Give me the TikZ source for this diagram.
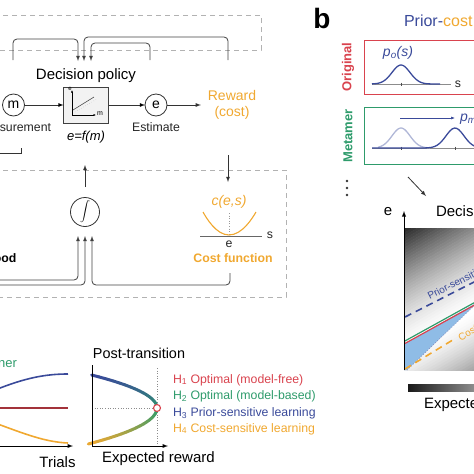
\documentclass[tikz,border=0pt]{standalone}
\usepackage{fontspec}
\setmainfont{Liberation Sans}
\usetikzlibrary{positioning,arrows.meta}
\definecolor{hred}{HTML}{D9434E}
\definecolor{hgreen}{HTML}{2E9B6B}
\definecolor{hblue}{HTML}{3A4A9A}
\definecolor{horange}{HTML}{F0A830}
\definecolor{hlight}{HTML}{8FBCE6}
\newcommand\fsz[1]{\fontsize{#1}{#1}\selectfont}

\begin{document}
\begin{tikzpicture}
[x=1pt,y=-1pt,
 every node/.style={inner sep=0pt,outer sep=0pt},
 var/.style={circle,draw=black!80,line width=0.8pt,minimum size=22pt,font=\fsz{14}},
 fbox/.style={rectangle,draw=black!75,fill=black!5,line width=0.8pt,minimum width=45pt,minimum height=36pt},
 lbl/.style={font=\fsz{12.3},text=black!85},
 flow/.style={-latex,line width=0.8pt,draw=black!80},
 fb/.style={-latex,line width=0.8pt,draw=black!75,rounded corners=4pt},
 region/.style={draw=black!30,dash pattern=on 5pt off 4pt,line width=0.8pt},
 curve/.style={line width=1.6pt}]
\useasboundingbox (0,0) rectangle (474,474);
\clip (0,0) rectangle (474,474);

% dashed regions
\draw[region] (-10,15) rectangle (261,50);
\draw[region] (-10,170) rectangle (286,297);

% decision row
\node[var]  (m)  at (13.5,105)                     {m};
\node[fbox] (f)  [on grid,right=72.5pt of m]       {};
\node[var]  (e)  [on grid,right=70pt of f]         {e};
\node[font=\fsz{14},text=horange,align=center] (rw) [on grid,right=76pt of e] {Reward\\[2pt](cost)};
\node[lbl]  (meas) [on grid,below=22pt of m]       {Measurement};
\node[lbl]  (est)  [on grid,below=22pt of e]       {Estimate};
\node[font=\fsz{13}\itshape] (eq) [on grid,below=32pt of f] {e=f(m)};
\node[font=\fsz{15}] (dp) [on grid,above=29pt of f] {Decision policy};
\path[flow] (m) edge (f);
\path[flow] (f) edge (e);
\draw[flow,shorten >=7pt] (e) -- (e -| rw.west);

% inset of the policy box
\draw[-{Latex[length=2.5pt,width=2pt]},line width=0.4pt] (72,115) -- (72,90);
\draw[-{Latex[length=2.5pt,width=2pt]},line width=0.4pt] (72,115) -- (96,115);
\node[font=\fsz{6}] at (70,89) {e};
\node[font=\fsz{7}] at (100,114) {m};
\draw[black!30,dotted,line width=0.4pt] (75,112) -- (97,99);
\draw[black!70,line width=0.6pt] (73,110) -- (94,97);

% feedback to the policy
\coordinate (fbA) at (13,60);
\coordinate (fbB) at (228,60);
\coordinate (fbC) at (150,60);
\coordinate (inA) at (78,61);
\coordinate (inB) at (84,61);
\coordinate (inC) at (91,61);
\draw[fb] (fbA) -- (13,39) -- (78,39) -- (inA);
\draw[fb] (fbB) -- (228,37) -- (84,37) -- (inB);
\draw[fb] (fbC) -- (150,43) -- (91,43) -- (inC);
\draw[black!80,line width=0.9pt] (-5,153) -- (21,153) -- (21,148);

% learning block
\coordinate (rwlo) at (228,155);
\coordinate (cfin) at (228,182);
\draw[flow] (rwlo) -- (cfin);
\node[var,minimum size=29pt,font=\fsz{14}] (int) at (85,212) {$\displaystyle\int$};
\coordinate (intup) at (85,187);
\coordinate (dpin)  at (85,165);
\draw[flow] (intup) -- (dpin);
\coordinate (cfout) at (230,273);
\draw[fb] (-10,280) -- (78,280) -- (78,236);
\draw[fb] (-10,285) -- (85,285) -- (85,236);
\draw[fb] (cfout) -- (230,285) -- (92,285) -- (92,236);
\node[font=\fsz{12.3}\bfseries,anchor=base east] (lik) at (16.5,262) {Likelihood};

% cost function
\node[font=\fsz{14}\itshape,text=horange] (ces) at (229,202) {c(e,s)};
\draw[black!40,dotted,line width=0.6pt] (229,213) -- (229,235);
\draw[horange,line width=1.1pt] (203,212) parabola bend (229,235) (256,212);
\draw[black!60,line width=0.9pt] (200,236) -- (262,236);
\node[lbl] (sax) at (270,235) {s};
\node[lbl] (eax) at (229,244) {e};
\node[font=\fsz{12.3}\bfseries,text=horange] (cf) at (233,258) {Cost function};

% trials plot
\node[font=\fsz{13},text=hgreen,anchor=base east] (lrn) at (17,367) {Learner};
\draw[line width=0.9pt,-latex] (-5,446) -- (73,446);
\draw[curve,hblue] (-5,390) .. controls (25,378) and (45,374) .. (68,374);
\draw[curve,line width=2.6pt,hgreen] (-5,408) -- (68,408);
\draw[curve,line width=2pt,hred!75!black] (-5,408) -- (68,408);
\draw[curve,horange] (-5,423) .. controls (25,434) and (45,442) .. (68,443);
\node[font=\fsz{15},anchor=base] (tr) at (57.5,467) {Trials};

% post-transition plot
\node[font=\fsz{14.4}] (pt) at (139,353) {Post-transition};
\draw[black!45,dotted,line width=0.6pt] (157,368) -- (157,446);
\draw[black!45,dotted,line width=0.6pt] (92,408) -- (157,408);
\foreach \t in {-33,-31,...,-1} {
  \pgfmathsetmacro\mix{100*((-\t)/33)^0.8}
  \draw[line width=3pt,line cap=round,color=hblue!\mix!hgreen]
    ({157-0.06*(\t)^2},{408+\t}) -- ({157-0.06*(\t+2)^2},{408+\t+2});
}
\foreach \t in {0,2,...,34} {
  \pgfmathsetmacro\mix{100*(\t/35)^1.3}
  \draw[line width=3pt,line cap=round,color=horange!\mix!hgreen]
    ({157-0.053*(\t)^2},{408+\t}) -- ({157-0.053*(\t+2)^2},{408+\t+2});
}
\draw[line width=0.9pt,-latex] (92,365) |- (168,446);
\node[circle,draw=hred,fill=white,line width=1.1pt,minimum size=7pt] (opt) at (157,408) {};
\node[font=\fsz{15},anchor=base] (er) at (158.5,462) {Expected reward};
\node[font=\fsz{12.3},text=hred,anchor=west]    (h1) at (173,380) {H\textsubscript{1} Optimal (model-free)};
\node[font=\fsz{12.3},text=hgreen,anchor=west]  (h2) at (173,396.5) {H\textsubscript{2} Optimal (model-based)};
\node[font=\fsz{12.3},text=hblue,anchor=west]   (h3) at (173,413) {H\textsubscript{3} Prior-sensitive learning};
\node[font=\fsz{12.3},text=horange,anchor=west] (h4) at (173,429) {H\textsubscript{4} Cost-sensitive learning};

% panel b
\node[font=\fsz{28}\bfseries,anchor=base] (b) at (322,28) {b};
\node[font=\fsz{16},anchor=base west] (ttl) at (404,26) {\textcolor{hblue}{Prior-}\textcolor{horange}{cost metamers}};
\draw[hred,line width=0.9pt]   (364,40) rectangle (500,94);
\draw[hgreen,line width=0.9pt] (364,107) rectangle (500,164);
\node[font=\fsz{13}\bfseries,text=hred,rotate=90]   (org) at (348,67) {Original};
\node[font=\fsz{13}\bfseries,text=hgreen,rotate=90] (met) at (348,136) {Metamer};

\draw[black!45,line width=0.8pt] (372,84) -- (451,84);
\draw[black!70,line width=0.6pt] (401,82.5) -- (401,85.5);
\draw[hblue,line width=1.3pt,domain=372:440,samples=50] plot (\x,{84-19*exp(-((\x-401)^2)/162)});
\node[font=\fsz{14}\itshape,text=hblue] (po) at (398,53) {p\textsubscript{o}(s)};
\node[lbl] (s1) at (458,84) {s};

\draw[black!45,line width=0.8pt] (372,148) -- (500,148);
\draw[black!70,line width=0.6pt] (401,146.5) -- (401,149.5);
\draw[black!70,line width=0.6pt] (455,146.5) -- (455,149.5);
\draw[hblue!40!white,line width=1.3pt,domain=378:430,samples=40] plot (\x,{148-20*exp(-((\x-401)^2)/162)});
\draw[hblue,line width=1.3pt,domain=372:500,samples=60] plot (\x,{148-20*exp(-((\x-455)^2)/162)});
\draw[hblue,-{Latex[length=4pt,width=3pt]},line width=0.6pt] (400,118) -- (455,118);
\node[font=\fsz{14}\itshape,text=hblue,anchor=west] (pm) at (460,118) {p\textsubscript{m}(s)};

\foreach \y in {181,188,195} \fill[black!80] (347,\y) circle (1.3);
\coordinate (dgA) at (408,177);
\coordinate (dgB) at (426,196);
\draw[flow] (dgA) -- (dgB);

% decision map
\node[font=\fsz{15}] (eaxis) at (388,212) {e};
\node[font=\fsz{15},anchor=base west] (dc) at (436,216) {Decision policy};
\begin{scope}
\clip (404,228) rectangle (480,370);
\foreach \o in {-132,-129,...,90} {
  \pgfmathsetmacro\shd{\o<0 ? 88*(abs(\o)/126)^1.5 : 45*(abs(\o)/70)^1.5}
  \fill[black!\shd] (400,352+\o) -- (484,303+\o) -- (484,306.5+\o) -- (400,355.5+\o) -- cycle;
}
\fill[hlight] (404,344) -- (478,302) -- (407,370) -- (404,370) -- cycle;
\draw[hblue!60,dotted,line width=0.8pt] (407,370) -- (478,302);
\draw[hblue,dash pattern=on 7pt off 5pt,line width=1.6pt] (405,317) -- (480,279);
\draw[hgreen,line width=1.2pt] (404,341.5) -- (480,299.5);
\draw[hred,line width=1.2pt] (404,344) -- (480,302);
\draw[horange,dash pattern=on 7pt off 5pt,line width=1.6pt] (405,369) -- (456,338);
\end{scope}
\node[font=\fsz{10},text=hblue,rotate=27,anchor=south west] (ps) at (430,300) {Prior-sensitive};
\node[font=\fsz{10},text=horange,rotate=31,anchor=west] (cs) at (459,338) {Cost-sensitive};
\draw[-latex,line width=0.9pt] (404,370) -- (404,211);
\shade[left color=black!90,right color=white] (408,384) rectangle (540,391);
\node[font=\fsz{15},anchor=base west] (xr) at (424,408) {Expected reward};
\end{tikzpicture}
\end{document}
